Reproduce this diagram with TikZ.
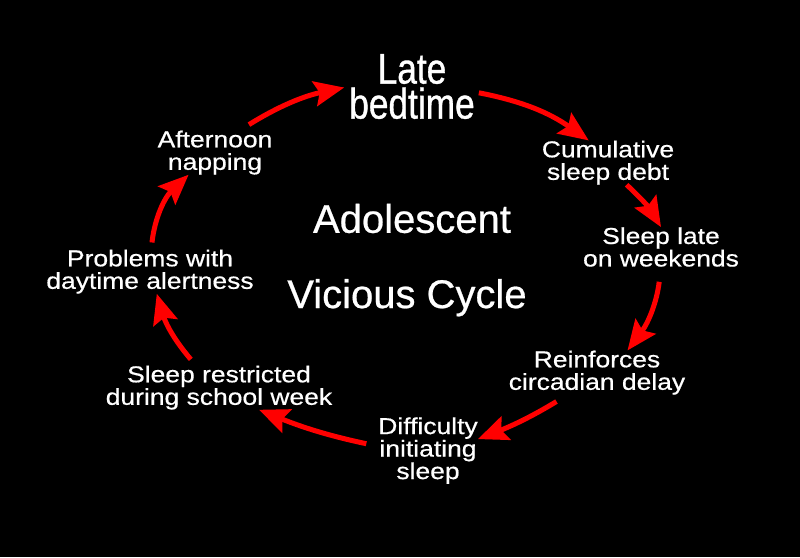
\documentclass[tikz,border=0pt]{standalone}
\usepackage{fontspec}
\setmainfont{Liberation Sans}[FakeBold=0.6]
\newfontfamily\lblfont{Liberation Sans}[FakeStretch=1.15, FakeBold=0.6]
\newfontfamily\bigfont{Liberation Sans}[FakeStretch=0.82, FakeBold=0.8]
\usetikzlibrary{arrows.meta}
\begin{document}
\begin{tikzpicture}[x=1pt,y=1pt,
  lbl/.style={text=white, align=center, inner sep=0pt, font=\lblfont\fontsize{23}{22.5}\selectfont},
  cyc/.style={draw=red, line width=5pt, -{Stealth[length=30pt,width=25pt,inset=5pt]}}]
\fill[black] (0,0) rectangle (800,-557);
\node[lbl, font=\bigfont\fontsize{43}{35}\selectfont] (late) at (412,-86.5) {Late\\bedtime};
\node[lbl] (debt) at (608,-162.6) {Cumulative\\sleep debt};
\node[lbl] (wknd) at (661,-247) {Sleep late\\on weekends};
\node[lbl] (circ) at (597,-372.6) {Reinforces\\circadian delay};
\node[lbl] (diff) at (428,-450.6) {Difficulty\\initiating\\sleep};
\node[lbl] (school) at (219,-387.6) {Sleep restricted\\during school week};
\node[lbl] (alert) at (150,-271.6) {Problems with\\daytime alertness};
\node[lbl] (nap) at (215,-152.6) {Afternoon\\napping};
\node[lbl, font=\fontsize{40}{48}\selectfont] (adol) at (412,-218.5) {Adolescent};
\node[lbl, font=\fontsize{40}{48}\selectfont] (vic) at (407,-297.7) {Vicious Cycle};
\draw[cyc, shorten <=11pt, shorten >=5pt] (nap.42) to[bend left=10] (late.west);
\draw[cyc, shorten <=4pt] (late.-5) to[bend left=12] (debt.131);
\draw[cyc] (debt.-50) to[bend left=8] (wknd.north);
\draw[cyc, shorten <=15pt] (wknd.south) to[bend left=15] (circ.36);
\draw[cyc, shorten <=13pt] (circ.-143) to[bend left=5] (diff.13);
\draw[cyc, shorten <=12pt] (diff.175) to[bend left=5] (school.-29);
\draw[cyc, shorten <=8pt] (school.136) to[bend left=12] (alert.-73);
\draw[cyc, shorten <=7pt] (alert.87) to[bend left=20] (nap.-140);
\end{tikzpicture}
\end{document}
